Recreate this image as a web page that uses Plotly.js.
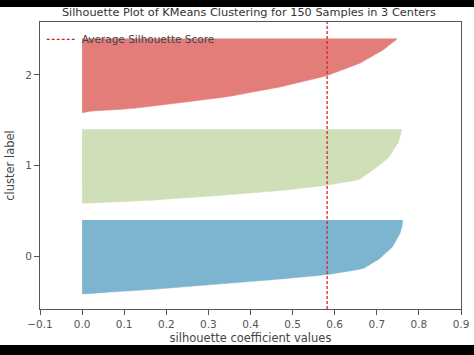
<!DOCTYPE html>
<html>
<head>
<meta charset="utf-8">
<script src="https://cdn.plot.ly/plotly-3.0.1.min.js"></script>
<style>
html,body{margin:0;padding:0;background:#000;width:474px;height:355px;overflow:hidden;}
#chart{position:absolute;left:0;top:7px;width:474px;height:338px;background:#fff;}
</style>
</head>
<body>
<div id="chart"></div>
<script>
// Cluster labels
const clusterLabels = ['0', '1', '2'];
const clusterColors = ['#7db5d0', '#cfe0b9', '#e27d7a'];

// Sorted silhouette coefficient values per cluster
const silhouette0 = [0.002,0.057,0.115,0.167,0.214,0.258,0.302,0.347,0.391,0.436,
  0.478,0.516,0.554,0.588,0.610,0.632,0.653,0.669,0.675,0.681,
  0.687,0.693,0.699,0.705,0.709,0.713,0.717,0.721,0.725,0.729,
  0.733,0.737,0.739,0.741,0.743,0.745,0.747,0.749,0.751,0.753,
  0.755,0.756,0.757,0.758,0.759,0.760,0.760,0.761,0.761,0.762];
const silhouette1 = [0.002,0.088,0.164,0.215,0.267,0.318,0.363,0.408,0.453,0.489,
  0.520,0.551,0.582,0.604,0.626,0.648,0.660,0.665,0.670,0.675,
  0.680,0.686,0.691,0.696,0.700,0.705,0.709,0.714,0.718,0.723,
  0.727,0.730,0.732,0.735,0.737,0.739,0.741,0.744,0.746,0.748,
  0.751,0.752,0.753,0.754,0.755,0.756,0.757,0.758,0.759,0.760];
const silhouette2 = [0.002,0.024,0.085,0.128,0.158,0.188,0.217,0.246,0.274,0.302,
  0.331,0.355,0.374,0.393,0.412,0.432,0.451,0.470,0.485,0.500,
  0.515,0.530,0.545,0.560,0.575,0.587,0.596,0.606,0.615,0.625,
  0.634,0.644,0.653,0.662,0.668,0.674,0.681,0.687,0.693,0.699,
  0.706,0.712,0.717,0.722,0.726,0.731,0.735,0.740,0.745,0.748];
const avgScore = 0.582;
const xTicks = [-0.1,0,0.1,0.2,0.3,0.4,0.5,0.6,0.7,0.8,0.9];

const clusters = [silhouette0, silhouette1, silhouette2];
const traces = [];
const tickPos = [];
let yLower = 10;
let total = 0;
clusters.forEach((vals, i) => {
  const ys = vals.map((_, j) => yLower + j);
  traces.push({
    type: 'scatter', mode: 'lines', x: vals, y: ys,
    fill: 'tozerox', fillcolor: clusterColors[i],
    line: {width: 0.5, color: clusterColors[i], shape: 'spline', smoothing: 0.6},
    showlegend: false, hoverinfo: 'skip'
  });
  tickPos.push(yLower + 0.5 * vals.length);
  yLower += vals.length + 10;
  total += vals.length;
});
const yMax = total + (clusters.length + 1) * 10;

traces.push({
  type: 'scatter', mode: 'lines', x: [avgScore, avgScore], y: [0, yMax],
  line: {color: '#d62728', width: 1.3, dash: '3px,2px'},
  name: 'Average Silhouette Score', showlegend: true, hoverinfo: 'skip'
});

const axisCommon = {
  showline: true, linecolor: '#555', linewidth: 1, mirror: true,
  ticks: 'outside', ticklen: 5, tickcolor: '#555', tickwidth: 1,
  showgrid: false, zeroline: false,
  tickfont: {family: 'DejaVu Sans', size: 10.5, color: '#555'}
};

const layout = {
  width: 474, height: 338,
  margin: {l: 40, r: 13, t: 15, b: 36},
  paper_bgcolor: '#fff', plot_bgcolor: '#fff',
  font: {family: 'DejaVu Sans', color: '#444'},
  title: {text: 'Silhouette Plot of KMeans Clustering for 150 Samples in 3 Centers',
    font: {family: 'DejaVu Sans', size: 11.3, color: '#333'},
    x: 0.525, xanchor: 'center', y: 0.998, yanchor: 'top'},
  xaxis: Object.assign({}, axisCommon, {
    range: [-0.1, 0.9], tickvals: xTicks, tickformat: '.1f',
    title: {text: 'silhouette coefficient values', standoff: 7,
      font: {family: 'DejaVu Sans', size: 11.5, color: '#444'}}
  }),
  yaxis: Object.assign({}, axisCommon, {
    range: [0, yMax], tickvals: tickPos, ticktext: clusterLabels,
    title: {text: 'cluster label', standoff: 8,
      font: {family: 'DejaVu Sans', size: 11.5, color: '#444'}}
  }),
  legend: {x: 0.004, y: 0.99, xanchor: 'left', yanchor: 'top',
    bgcolor: 'rgba(0,0,0,0)', borderwidth: 0, itemwidth: 30,
    font: {family: 'DejaVu Sans', size: 10.5, color: '#444'}}
};

Plotly.newPlot('chart', traces, layout, {displayModeBar: false, staticPlot: true});
</script>
</body>
</html>
